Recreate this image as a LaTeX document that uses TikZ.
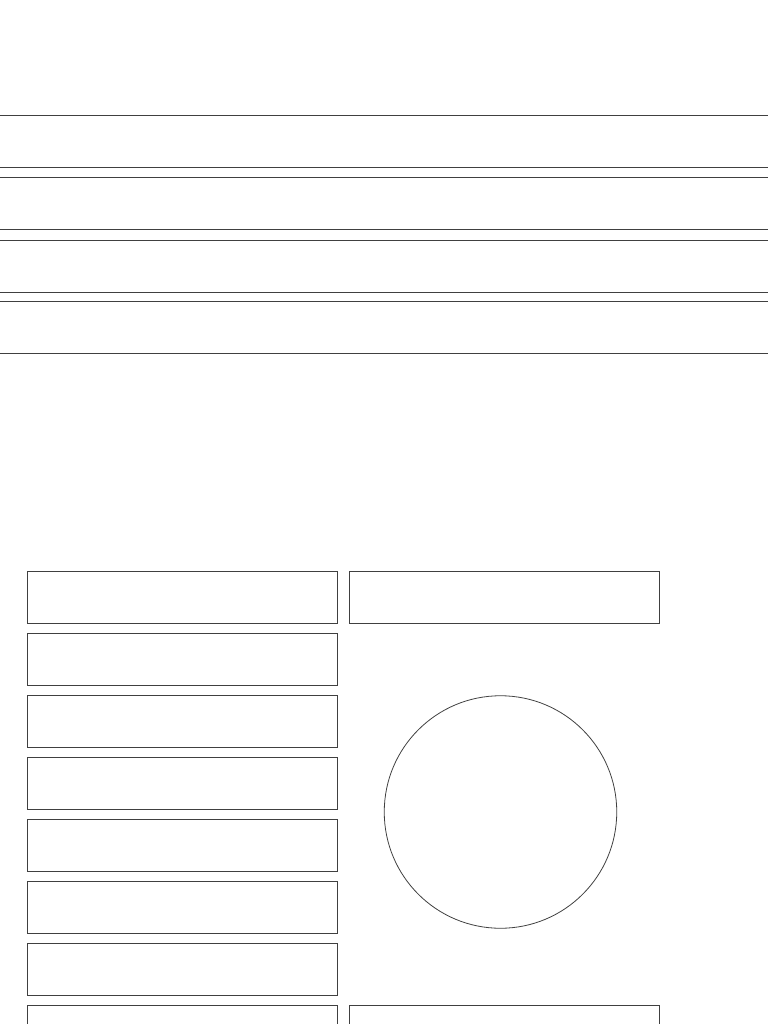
\documentclass[tikz,border=0pt]{standalone}
\usetikzlibrary{positioning}
\begin{document}
\begin{tikzpicture}[x=1pt, y=-1pt, line width=0.8pt, draw=black!75,
	panel/.style={draw=black!75, rectangle, inner sep=0pt, outer sep=0pt, minimum width=310pt, minimum height=51.5pt},
	declare function={h=52;}]
	\clip (0,0) rectangle (768,1024);
	\path[use as bounding box] (0,0) rectangle (768,1024);
	% bands at the top
	\foreach \y in {115,177,240,301}{
		\draw[black!75] (0,\y)--(768,\y) (0,\y+h)--(768,\y+h);
	}
	% left column
	\node[panel] (L1) at (182,597.5) {};
	\foreach \i [remember=\i as \j (initially 1)] in {2,...,8}{
		\node[panel, below=10.5pt of L\j] (L\i) {};
	}
	\node[panel, right=12pt of L1] (R1) {};
	\node[panel, right=12pt of L8] (R2) {};
	\node[draw=black!75, circle, inner sep=0pt, minimum size=232.5pt] (C) at (500.5,812) {};
\end{tikzpicture}
\end{document}
